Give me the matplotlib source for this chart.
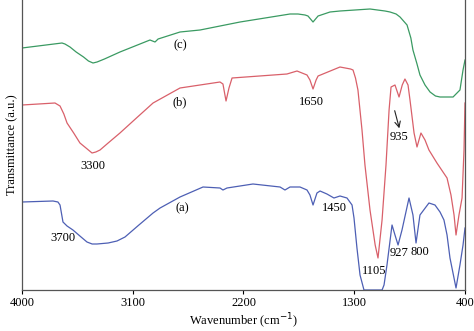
import numpy as np
import matplotlib
matplotlib.use("Agg")
import matplotlib.pyplot as plt

plt.rcParams['font.family'] = ['Liberation Serif', 'DejaVu Serif']

# traced spectra: wavenumber (cm-1), transmittance (a.u., offset per sample)
wn_c = [4000, 3675, 3651, 3610, 3560, 3500, 3460, 3423, 3390, 3330, 3204, 2960,
        2919, 2894, 2716, 2553, 2228, 1822, 1757, 1700, 1676, 1635, 1594, 1497,
        1416, 1172, 1050, 1009, 960, 928, 871, 840, 823, 790, 766, 725, 684,
        640, 603, 497, 441, 416, 400]
t_c = [242, 247, 246, 243, 238, 233, 229, 227, 228, 231, 238, 250,
       248, 251, 258, 260, 268, 276, 276, 275, 274, 268, 274, 278,
       279, 281, 279, 278, 276, 273, 265, 252, 240, 226, 215, 205, 198,
       194, 193, 193, 200, 220, 230]

wn_b = [4000, 3732, 3691, 3660, 3634, 3580, 3529, 3470, 3431, 3400, 3366, 3300,
        3204, 3070, 2935, 2716, 2391, 2367, 2342, 2318, 2293, 1847, 1765, 1684,
        1660, 1635, 1610, 1594, 1416, 1330, 1310, 1290, 1270, 1237, 1213, 1172,
        1130, 1107, 1074, 1042, 1017, 1001, 969, 936, 910, 888, 863, 847, 814,
        790, 758, 725, 693, 628, 546, 514, 489, 473, 449, 424, 408, 400]
t_b = [185, 187, 184, 176, 167, 157, 147, 141, 137, 138, 140, 147,
       157, 172, 187, 202, 208, 206, 189, 202, 212, 216, 219, 215,
       210, 201, 210, 214, 223, 221, 220, 212, 200, 160, 125, 80,
       45, 32, 70, 125, 180, 203, 205, 193, 205, 211, 205, 190, 157,
       143, 157, 150, 140, 127, 112, 95, 75, 55, 75, 92, 140, 187]

wn_a = [4000, 3748, 3708, 3691, 3667, 3634, 3586, 3520, 3472, 3430, 3391, 3300,
        3228, 3163, 3050, 2935, 2878, 2716, 2529, 2391, 2367, 2334, 2123, 1903,
        1863, 1822, 1741, 1684, 1660, 1635, 1603, 1578, 1522, 1465, 1416, 1359,
        1318, 1302, 1278, 1253, 1221, 1074, 1058, 1034, 993, 969, 944, 912,
        855, 823, 798, 766, 693, 644, 603, 571, 546, 522, 473, 441, 416, 400]
t_a = [88, 89, 88, 85, 68, 64, 60, 53, 48, 46, 46, 47,
       49, 53, 65, 77, 82, 93, 103, 102, 100, 102, 106, 103,
       100, 103, 103, 100, 95, 85, 97, 99, 96, 92, 94, 92,
       85, 72, 42, 15, 0, 0, 5, 25, 65, 55, 45, 60,
       92, 75, 47, 75, 87, 85, 78, 70, 55, 32, 2, 25, 45, 62]

tick_vals = [4000, 3100, 2200, 1300, 400]

fig = plt.figure(figsize=(4.74, 3.31), dpi=100)
ax = fig.add_axes([22 / 474, 41 / 331, 443 / 474, 290 / 331])

ax.plot(wn_c, t_c, color='#3a9a62', lw=0.9)
ax.plot(wn_b, t_b, color='#d9606a', lw=0.9)
ax.plot(wn_a, t_a, color='#4d5fb4', lw=0.9)

ax.set_xlim(4000, 400)
ax.set_ylim(0, 290)
ax.set_xticks(tick_vals)
ax.set_xticklabels([str(v) for v in tick_vals], fontsize=9)
ax.set_yticks([])
ax.tick_params(axis='x', direction='out', length=3, width=0.8, pad=2)
ax.spines['top'].set_visible(False)
for s in ['left', 'right', 'bottom']:
    ax.spines[s].set_color('#555555')
    ax.spines[s].set_linewidth(0.9)

ax.set_xlabel('Wavenumber (cm$^{-1}$)', fontsize=9, labelpad=2)
ax.set_ylabel('Transmittance (a.u.)', fontsize=9, labelpad=3)

txt = dict(fontsize=9, ha='center', va='center')
ax.text(2716, 245, '(c)', **txt)
ax.text(2716, 188, '(b)', **txt)
ax.text(2700, 82, '(a)', **txt)
ax.text(3423, 124, '3300', **txt)
ax.text(1651, 188, '1650', **txt)
ax.text(936, 153, '935', **txt)
ax.text(3667, 52, '3700', **txt)
ax.text(1465, 82, '1450', **txt)
ax.text(1140, 19, '1105', **txt)
ax.text(936, 37, '927', **txt)
ax.text(766, 38, '800', **txt)
ax.annotate('', xy=(928, 159), xytext=(977, 182),
            arrowprops=dict(arrowstyle='->', color='#222222', lw=0.8))

fig.savefig('out.png', dpi=100)
